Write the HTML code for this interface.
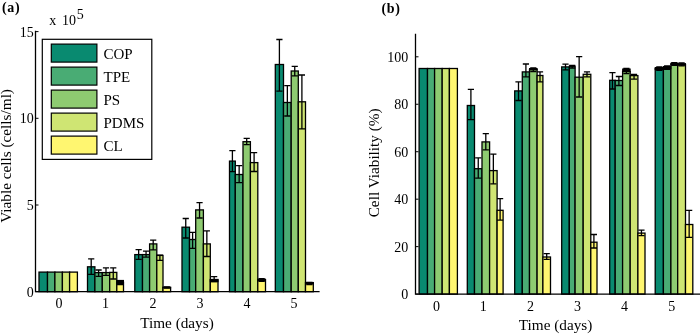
<!DOCTYPE html>
<html><head><meta charset="utf-8"><title>Cell viability charts</title>
<style>
html,body{margin:0;padding:0;background:#fff;}
body{width:700px;height:335px;overflow:hidden;}
svg{display:block;}
#wrap{width:700px;height:335px;}
text{font-family:"Liberation Serif","Times New Roman",serif;fill:#000;}
.tk{font-size:14px;}
.ti{font-size:15.25px;}
.lg{font-size:15px;}
.pl{font-size:14px;font-weight:bold;letter-spacing:0.7px;}
.sp{font-size:14px;}
</style></head><body>
<div id="wrap"><svg width="700" height="335" viewBox="0 0 700 335">
<rect width="700" height="335" fill="#fff"/>
<rect x="39" y="272.1" width="8.5" height="19.6" fill="#098a70" stroke="#000" stroke-width="1.3"/>
<rect x="47.5" y="272.1" width="7.4" height="19.6" fill="#49ac74" stroke="#000" stroke-width="1.3"/>
<rect x="54.9" y="272.1" width="7.5" height="19.6" fill="#8ecb71" stroke="#000" stroke-width="1.3"/>
<rect x="62.4" y="272.1" width="7.2" height="19.6" fill="#cfe573" stroke="#000" stroke-width="1.3"/>
<rect x="69.6" y="272.1" width="7.8" height="19.6" fill="#fff670" stroke="#000" stroke-width="1.3"/>
<rect x="87.5" y="266.8" width="7.4" height="24.9" fill="#098a70" stroke="#000" stroke-width="1.3"/>
<rect x="94.9" y="272.6" width="7.4" height="19.1" fill="#49ac74" stroke="#000" stroke-width="1.3"/>
<rect x="102.3" y="272.6" width="7.4" height="19.1" fill="#8ecb71" stroke="#000" stroke-width="1.3"/>
<rect x="109.7" y="272.4" width="7.1" height="19.3" fill="#cfe573" stroke="#000" stroke-width="1.3"/>
<rect x="116.8" y="282.3" width="6.7" height="9.4" fill="#fff670" stroke="#000" stroke-width="1.3"/>
<rect x="134.8" y="254.6" width="7.7" height="37.1" fill="#098a70" stroke="#000" stroke-width="1.3"/>
<rect x="142.5" y="254.6" width="7.1" height="37.1" fill="#49ac74" stroke="#000" stroke-width="1.3"/>
<rect x="149.6" y="243.9" width="7.2" height="47.8" fill="#8ecb71" stroke="#000" stroke-width="1.3"/>
<rect x="156.8" y="255.4" width="6.2" height="36.3" fill="#cfe573" stroke="#000" stroke-width="1.3"/>
<rect x="163" y="287.4" width="7.6" height="4.3" fill="#fff670" stroke="#000" stroke-width="1.3"/>
<rect x="182" y="227.2" width="7.5" height="64.5" fill="#098a70" stroke="#000" stroke-width="1.3"/>
<rect x="189.5" y="239.5" width="6.2" height="52.2" fill="#49ac74" stroke="#000" stroke-width="1.3"/>
<rect x="195.7" y="209.9" width="7.7" height="81.8" fill="#8ecb71" stroke="#000" stroke-width="1.3"/>
<rect x="203.4" y="243.9" width="6.9" height="47.8" fill="#cfe573" stroke="#000" stroke-width="1.3"/>
<rect x="210.3" y="279.5" width="7.7" height="12.2" fill="#fff670" stroke="#000" stroke-width="1.3"/>
<rect x="229.5" y="161.1" width="5.8" height="130.6" fill="#098a70" stroke="#000" stroke-width="1.3"/>
<rect x="235.3" y="174.5" width="7.7" height="117.2" fill="#49ac74" stroke="#000" stroke-width="1.3"/>
<rect x="243" y="141.7" width="7.4" height="150" fill="#8ecb71" stroke="#000" stroke-width="1.3"/>
<rect x="250.4" y="162.6" width="7.4" height="129.1" fill="#cfe573" stroke="#000" stroke-width="1.3"/>
<rect x="257.8" y="279.6" width="7.7" height="12.1" fill="#fff670" stroke="#000" stroke-width="1.3"/>
<rect x="275.3" y="64.5" width="8.2" height="227.2" fill="#098a70" stroke="#000" stroke-width="1.3"/>
<rect x="283.5" y="102.5" width="7.7" height="189.2" fill="#49ac74" stroke="#000" stroke-width="1.3"/>
<rect x="291.2" y="71" width="7.1" height="220.7" fill="#8ecb71" stroke="#000" stroke-width="1.3"/>
<rect x="298.3" y="101.8" width="7.2" height="189.9" fill="#cfe573" stroke="#000" stroke-width="1.3"/>
<rect x="305.5" y="282.6" width="7.8" height="9.1" fill="#fff670" stroke="#000" stroke-width="1.3"/>
<path d="M91.2 258.9V274.3M88.1 258.9H94.3M88.1 274.3H94.3" stroke="#000" stroke-width="1.3" fill="none"/>
<path d="M98.6 270V276.4M95.5 270H101.7M95.5 276.4H101.7" stroke="#000" stroke-width="1.3" fill="none"/>
<path d="M106 267.9V275.4M102.9 267.9H109.1M102.9 275.4H109.1" stroke="#000" stroke-width="1.3" fill="none"/>
<path d="M113.25 267.9V279M110.15 267.9H116.35M110.15 279H116.35" stroke="#000" stroke-width="1.3" fill="none"/>
<rect x="116.3" y="279.9" width="7.7" height="4.5" fill="#000"/>
<path d="M120.15 280.6V284.6M117.05 280.6H123.25M117.05 284.6H123.25" stroke="#000" stroke-width="1.3" fill="none"/>
<path d="M138.65 249.6V259.3M135.55 249.6H141.75M135.55 259.3H141.75" stroke="#000" stroke-width="1.3" fill="none"/>
<path d="M146.05 251.1V257.1M142.95 251.1H149.15M142.95 257.1H149.15" stroke="#000" stroke-width="1.3" fill="none"/>
<path d="M153.2 240.2V249.8M150.1 240.2H156.3M150.1 249.8H156.3" stroke="#000" stroke-width="1.3" fill="none"/>
<path d="M159.9 255.1V260.4M156.8 255.1H163M156.8 260.4H163" stroke="#000" stroke-width="1.3" fill="none"/>
<rect x="162.5" y="286.7" width="8.6" height="1.7" fill="#000"/>
<path d="M166.8 286.8V288.2M163.7 286.8H169.9M163.7 288.2H169.9" stroke="#000" stroke-width="1.3" fill="none"/>
<path d="M185.75 218.5V238M182.65 218.5H188.85M182.65 238H188.85" stroke="#000" stroke-width="1.3" fill="none"/>
<path d="M192.6 232.3V248.4M189.5 232.3H195.7M189.5 248.4H195.7" stroke="#000" stroke-width="1.3" fill="none"/>
<path d="M199.55 202.7V218M196.45 202.7H202.65M196.45 218H202.65" stroke="#000" stroke-width="1.3" fill="none"/>
<path d="M206.85 230.8V256.5M203.75 230.8H209.95M203.75 256.5H209.95" stroke="#000" stroke-width="1.3" fill="none"/>
<rect x="209.8" y="279.4" width="8.7" height="2.8" fill="#000"/>
<path d="M214.15 276.6V281.7M211.05 276.6H217.25M211.05 281.7H217.25" stroke="#000" stroke-width="1.3" fill="none"/>
<path d="M232.4 150.6V171.6M229.3 150.6H235.5M229.3 171.6H235.5" stroke="#000" stroke-width="1.3" fill="none"/>
<path d="M239.15 165.6V182.7M236.05 165.6H242.25M236.05 182.7H242.25" stroke="#000" stroke-width="1.3" fill="none"/>
<path d="M246.7 138.3V144.7M243.6 138.3H249.8M243.6 144.7H249.8" stroke="#000" stroke-width="1.3" fill="none"/>
<path d="M254.1 152.6V171.5M251 152.6H257.2M251 171.5H257.2" stroke="#000" stroke-width="1.3" fill="none"/>
<rect x="257.3" y="278.7" width="8.7" height="2.6" fill="#000"/>
<path d="M261.65 278.7V281.3M258.55 278.7H264.75M258.55 281.3H264.75" stroke="#000" stroke-width="1.3" fill="none"/>
<path d="M279.4 39.5V91.1M276.3 39.5H282.5M276.3 91.1H282.5" stroke="#000" stroke-width="1.3" fill="none"/>
<path d="M287.35 85.7V116M284.25 85.7H290.45M284.25 116H290.45" stroke="#000" stroke-width="1.3" fill="none"/>
<path d="M294.75 66.3V75.8M291.65 66.3H297.85M291.65 75.8H297.85" stroke="#000" stroke-width="1.3" fill="none"/>
<path d="M301.9 75V128.8M298.8 75H305M298.8 128.8H305" stroke="#000" stroke-width="1.3" fill="none"/>
<rect x="305" y="282.4" width="8.8" height="2" fill="#000"/>
<path d="M309.4 282.4V284.5M306.3 282.4H312.5M306.3 284.5H312.5" stroke="#000" stroke-width="1.3" fill="none"/>
<path d="M35.5 30.8V291.7H319.6" stroke="#000" stroke-width="1.3" fill="none"/>
<path d="M35.5 291.7H38.5" stroke="#000" stroke-width="1"/>
<path d="M35.5 205H38.5" stroke="#000" stroke-width="1"/>
<path d="M35.5 118.3H38.5" stroke="#000" stroke-width="1"/>
<path d="M35.5 31.6H38.5" stroke="#000" stroke-width="1"/>
<text class="tk" x="33.7" y="296.7" text-anchor="end">0</text>
<text class="tk" x="33.7" y="210" text-anchor="end">5</text>
<text class="tk" x="33.7" y="123.3" text-anchor="end">10</text>
<text class="tk" x="33.7" y="36.6" text-anchor="end">15</text>
<text class="tk" x="58.9" y="308.1" text-anchor="middle">0</text>
<text class="tk" x="105.4" y="308.1" text-anchor="middle">1</text>
<text class="tk" x="153" y="308.1" text-anchor="middle">2</text>
<text class="tk" x="200.1" y="308.1" text-anchor="middle">3</text>
<text class="tk" x="247" y="308.1" text-anchor="middle">4</text>
<text class="tk" x="293.9" y="308.1" text-anchor="middle">5</text>
<rect x="419.1" y="68.5" width="8.4" height="225.6" fill="#098a70" stroke="#000" stroke-width="1.3"/>
<rect x="427.5" y="68.5" width="7.1" height="225.6" fill="#49ac74" stroke="#000" stroke-width="1.3"/>
<rect x="434.6" y="68.5" width="7.6" height="225.6" fill="#8ecb71" stroke="#000" stroke-width="1.3"/>
<rect x="442.2" y="68.5" width="7.2" height="225.6" fill="#cfe573" stroke="#000" stroke-width="1.3"/>
<rect x="449.4" y="68.5" width="8" height="225.6" fill="#fff670" stroke="#000" stroke-width="1.3"/>
<rect x="467.3" y="105.5" width="7.2" height="188.6" fill="#098a70" stroke="#000" stroke-width="1.3"/>
<rect x="474.5" y="168.7" width="7.5" height="125.4" fill="#49ac74" stroke="#000" stroke-width="1.3"/>
<rect x="482" y="141.9" width="7.6" height="152.2" fill="#8ecb71" stroke="#000" stroke-width="1.3"/>
<rect x="489.6" y="170.6" width="7.5" height="123.5" fill="#cfe573" stroke="#000" stroke-width="1.3"/>
<rect x="497.1" y="210.3" width="6" height="83.8" fill="#fff670" stroke="#000" stroke-width="1.3"/>
<rect x="514.7" y="90.9" width="7.6" height="203.2" fill="#098a70" stroke="#000" stroke-width="1.3"/>
<rect x="522.3" y="71.9" width="7.2" height="222.2" fill="#49ac74" stroke="#000" stroke-width="1.3"/>
<rect x="529.5" y="69.5" width="7.6" height="224.6" fill="#8ecb71" stroke="#000" stroke-width="1.3"/>
<rect x="537.1" y="75.5" width="5.8" height="218.6" fill="#cfe573" stroke="#000" stroke-width="1.3"/>
<rect x="542.9" y="257" width="7.6" height="37.1" fill="#fff670" stroke="#000" stroke-width="1.3"/>
<rect x="561.7" y="66.9" width="7.6" height="227.2" fill="#098a70" stroke="#000" stroke-width="1.3"/>
<rect x="569.3" y="66.3" width="5.8" height="227.8" fill="#49ac74" stroke="#000" stroke-width="1.3"/>
<rect x="575.1" y="77.2" width="8.1" height="216.9" fill="#8ecb71" stroke="#000" stroke-width="1.3"/>
<rect x="583.2" y="74.3" width="7.6" height="219.8" fill="#cfe573" stroke="#000" stroke-width="1.3"/>
<rect x="590.8" y="242.2" width="6.2" height="51.9" fill="#fff670" stroke="#000" stroke-width="1.3"/>
<rect x="609.7" y="80.3" width="5.5" height="213.8" fill="#098a70" stroke="#000" stroke-width="1.3"/>
<rect x="615.2" y="80.5" width="7.4" height="213.6" fill="#49ac74" stroke="#000" stroke-width="1.3"/>
<rect x="622.6" y="71.5" width="7.6" height="222.6" fill="#8ecb71" stroke="#000" stroke-width="1.3"/>
<rect x="630.2" y="75.6" width="7.7" height="218.5" fill="#cfe573" stroke="#000" stroke-width="1.3"/>
<rect x="637.9" y="233.1" width="7.1" height="61" fill="#fff670" stroke="#000" stroke-width="1.3"/>
<rect x="655.2" y="68.6" width="8.2" height="225.5" fill="#098a70" stroke="#000" stroke-width="1.3"/>
<rect x="663.4" y="67.5" width="7.5" height="226.6" fill="#49ac74" stroke="#000" stroke-width="1.3"/>
<rect x="670.9" y="64" width="6.8" height="230.1" fill="#8ecb71" stroke="#000" stroke-width="1.3"/>
<rect x="677.7" y="64.5" width="7.8" height="229.6" fill="#cfe573" stroke="#000" stroke-width="1.3"/>
<rect x="685.5" y="224.5" width="7.3" height="69.6" fill="#fff670" stroke="#000" stroke-width="1.3"/>
<path d="M470.9 89.4V119.7M467.8 89.4H474M467.8 119.7H474" stroke="#000" stroke-width="1.3" fill="none"/>
<path d="M478.25 157.8V178.2M475.15 157.8H481.35M475.15 178.2H481.35" stroke="#000" stroke-width="1.3" fill="none"/>
<path d="M485.8 133.7V149.9M482.7 133.7H488.9M482.7 149.9H488.9" stroke="#000" stroke-width="1.3" fill="none"/>
<path d="M493.35 154.1V183.9M490.25 154.1H496.45M490.25 183.9H496.45" stroke="#000" stroke-width="1.3" fill="none"/>
<path d="M500.1 198.6V220.2M497 198.6H503.2M497 220.2H503.2" stroke="#000" stroke-width="1.3" fill="none"/>
<path d="M518.5 81.9V100.5M515.4 81.9H521.6M515.4 100.5H521.6" stroke="#000" stroke-width="1.3" fill="none"/>
<path d="M525.9 64V76.9M522.8 64H529M522.8 76.9H529" stroke="#000" stroke-width="1.3" fill="none"/>
<rect x="529" y="68" width="8.6" height="2.2" fill="#000"/>
<path d="M533.3 67.9V71.5M530.2 67.9H536.4M530.2 71.5H536.4" stroke="#000" stroke-width="1.3" fill="none"/>
<path d="M540 71.9V81.9M536.9 71.9H543.1M536.9 81.9H543.1" stroke="#000" stroke-width="1.3" fill="none"/>
<path d="M546.7 253.7V259.4M543.6 253.7H549.8M543.6 259.4H549.8" stroke="#000" stroke-width="1.3" fill="none"/>
<path d="M565.5 64.1V69.8M562.4 64.1H568.6M562.4 69.8H568.6" stroke="#000" stroke-width="1.3" fill="none"/>
<path d="M572.2 65.5V68M569.1 65.5H575.3M569.1 68H575.3" stroke="#000" stroke-width="1.3" fill="none"/>
<path d="M579.15 56.7V97M576.05 56.7H582.25M576.05 97H582.25" stroke="#000" stroke-width="1.3" fill="none"/>
<path d="M587 71.9V76.9M583.9 71.9H590.1M583.9 76.9H590.1" stroke="#000" stroke-width="1.3" fill="none"/>
<path d="M593.9 234.5V248M590.8 234.5H597M590.8 248H597" stroke="#000" stroke-width="1.3" fill="none"/>
<path d="M612.45 72.7V89M609.35 72.7H615.55M609.35 89H615.55" stroke="#000" stroke-width="1.3" fill="none"/>
<path d="M618.9 76.5V85.5M615.8 76.5H622M615.8 85.5H622" stroke="#000" stroke-width="1.3" fill="none"/>
<rect x="622.1" y="68.5" width="8.6" height="3.7" fill="#000"/>
<path d="M626.4 68.4V73.6M623.3 68.4H629.5M623.3 73.6H629.5" stroke="#000" stroke-width="1.3" fill="none"/>
<path d="M634.05 74.3V79.2M630.95 74.3H637.15M630.95 79.2H637.15" stroke="#000" stroke-width="1.3" fill="none"/>
<path d="M641.45 230.2V235.6M638.35 230.2H644.55M638.35 235.6H644.55" stroke="#000" stroke-width="1.3" fill="none"/>
<rect x="654.7" y="67" width="9.2" height="3.1" fill="#000"/>
<path d="M659.3 66.9V70.3M656.2 66.9H662.4M656.2 70.3H662.4" stroke="#000" stroke-width="1.3" fill="none"/>
<rect x="662.9" y="66" width="8.5" height="3.3" fill="#000"/>
<path d="M667.15 65.9V69.3M664.05 65.9H670.25M664.05 69.3H670.25" stroke="#000" stroke-width="1.3" fill="none"/>
<rect x="670.4" y="62.7" width="7.8" height="2.6" fill="#000"/>
<path d="M674.3 62.6V65.3M671.2 62.6H677.4M671.2 65.3H677.4" stroke="#000" stroke-width="1.3" fill="none"/>
<rect x="677.2" y="63.1" width="8.8" height="2.7" fill="#000"/>
<path d="M681.6 63V65.8M678.5 63H684.7M678.5 65.8H684.7" stroke="#000" stroke-width="1.3" fill="none"/>
<path d="M689.15 210.4V237.3M686.05 210.4H692.25M686.05 237.3H692.25" stroke="#000" stroke-width="1.3" fill="none"/>
<path d="M415.5 33.8V294.1H700.5" stroke="#000" stroke-width="1.3" fill="none"/>
<path d="M415.5 294.1H418.5" stroke="#000" stroke-width="1"/>
<path d="M415.5 246.64H418.5" stroke="#000" stroke-width="1"/>
<path d="M415.5 199.18H418.5" stroke="#000" stroke-width="1"/>
<path d="M415.5 151.72H418.5" stroke="#000" stroke-width="1"/>
<path d="M415.5 104.26H418.5" stroke="#000" stroke-width="1"/>
<path d="M415.5 56.8H418.5" stroke="#000" stroke-width="1"/>
<text class="tk" x="408.2" y="299.1" text-anchor="end">0</text>
<text class="tk" x="408.2" y="251.64" text-anchor="end">20</text>
<text class="tk" x="408.2" y="204.18" text-anchor="end">40</text>
<text class="tk" x="408.2" y="156.72" text-anchor="end">60</text>
<text class="tk" x="408.2" y="109.26" text-anchor="end">80</text>
<text class="tk" x="408.2" y="61.8" text-anchor="end">100</text>
<text class="tk" x="436.6" y="310.9" text-anchor="middle">0</text>
<text class="tk" x="483.3" y="310.9" text-anchor="middle">1</text>
<text class="tk" x="530.6" y="310.9" text-anchor="middle">2</text>
<text class="tk" x="577.4" y="310.9" text-anchor="middle">3</text>
<text class="tk" x="624.6" y="310.9" text-anchor="middle">4</text>
<text class="tk" x="671.7" y="310.9" text-anchor="middle">5</text>
<rect x="42.3" y="39.3" width="109.5" height="120.1" fill="#fff" stroke="#000" stroke-width="1.2"/>
<rect x="51.3" y="44.1" width="45.6" height="18" fill="#098a70" stroke="#000" stroke-width="1.2"/>
<text class="lg" x="103.5" y="59.3">COP</text>
<rect x="51.3" y="67.1" width="45.6" height="18" fill="#49ac74" stroke="#000" stroke-width="1.2"/>
<text class="lg" x="103.5" y="82.3">TPE</text>
<rect x="51.3" y="90.1" width="45.6" height="18" fill="#8ecb71" stroke="#000" stroke-width="1.2"/>
<text class="lg" x="103.5" y="105.3">PS</text>
<rect x="51.3" y="113.1" width="45.6" height="18" fill="#cfe573" stroke="#000" stroke-width="1.2"/>
<text class="lg" x="103.5" y="128.3">PDMS</text>
<rect x="51.3" y="136.1" width="45.6" height="18" fill="#fff670" stroke="#000" stroke-width="1.2"/>
<text class="lg" x="103.5" y="151.3">CL</text>
<text class="ti" x="140.2" y="327.8">Time (days)</text>
<text class="ti" x="518.8" y="330.1">Time (days)</text>
<text class="ti" transform="translate(11.2 222.8) rotate(-90)">Viable cells (cells/ml)</text>
<text class="ti" transform="translate(379.3 217.3) rotate(-90)">Cell Viability (%)</text>
<text class="pl" x="1.9" y="11.7">(a)</text>
<text class="pl" x="381.4" y="13.3">(b)</text>
<text class="tk" x="49.2" y="24.9">x</text><text class="tk" x="62.1" y="24.9">10</text><text class="sp" x="76.8" y="18.6">5</text>
</svg></div>
</body></html>
